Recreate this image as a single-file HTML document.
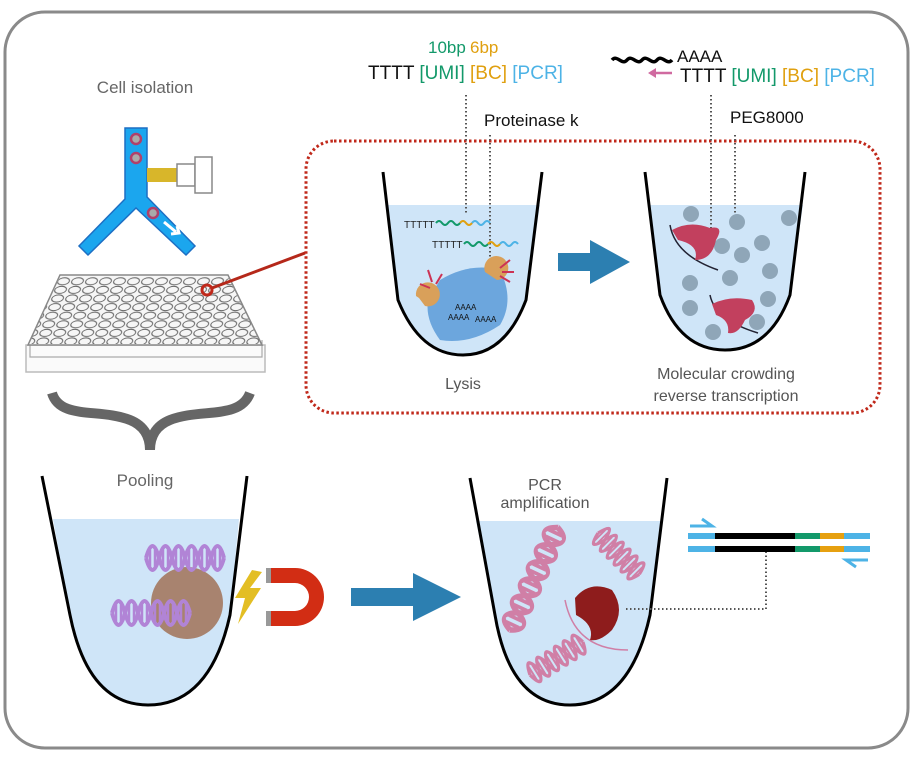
<!DOCTYPE html>
<html><head><meta charset="utf-8"><style>
html,body{margin:0;padding:0;background:#fff}
svg{display:block}
text{font-family:"Liberation Sans",sans-serif}
</style></head><body>
<svg width="914" height="762" viewBox="0 0 914 762" xmlns="http://www.w3.org/2000/svg">
<defs>
<pattern id="wells" x="0" y="0" width="14" height="8.6" patternUnits="userSpaceOnUse" patternTransform="translate(58,277) skewX(-19)">
<ellipse cx="7" cy="4.3" rx="5.8" ry="3.6" fill="none" stroke="#666" stroke-width="1"/>
</pattern>
<g id="dna">
<path d="M0,0 Q6.5,-24 13,0 T26,0 T39,0 T52,0 T65,0 T78,0" fill="none" stroke-width="4"/>
<path d="M0,0 Q6.5,24 13,0 T26,0 T39,0 T52,0 T65,0 T78,0" fill="none" stroke-width="4"/>
<path d="M4,-8 v16 M9,-8 v16 M17,-8 v16 M22,-8 v16 M30,-8 v16 M35,-8 v16 M43,-8 v16 M48,-8 v16 M56,-8 v16 M61,-8 v16 M69,-8 v16 M74,-8 v16" stroke-width="2.5"/>
</g>
</defs>
<rect x="5" y="12" width="903" height="736" rx="40" fill="#fff" stroke="#8a8a8a" stroke-width="3"/>

<text x="145" y="93" font-size="17" fill="#666" text-anchor="middle">Cell isolation</text>
<g stroke="#1d6fc4" stroke-width="1.5" fill="#1ba6ee">
<path d="M125,128 H147 V197 L195,246 L186,255 L136,208 L88,255 L79,246 L125,199 Z"/>
</g>
<rect x="147" y="168" width="30" height="14" fill="#d8b62a"/>
<rect x="177" y="164" width="18" height="22" fill="#fff" stroke="#888" stroke-width="1.5"/>
<rect x="195" y="157" width="17" height="36" fill="#fff" stroke="#888" stroke-width="1.5"/>
<g fill="#aaa" stroke="#b0406a" stroke-width="2.5">
<circle cx="136" cy="139" r="5"/><circle cx="136" cy="158" r="5"/><circle cx="153" cy="213" r="5"/>
</g>
<path d="M164,222 L176,232 M171,234 L179,233 L177,226" stroke="#fff" stroke-width="3" fill="none"/>

<path d="M26,345 V372 H265 V345 Z" fill="#fafafa" stroke="#bbb" stroke-width="1.5"/>
<path d="M30,340 V357 H262 V340" fill="none" stroke="#aaa" stroke-width="1.2"/>
<path d="M60,275 H228 L262,345 H28 Z" fill="#f6f6f6" stroke="#888" stroke-width="1.5"/>
<path d="M60,277 H228 L261,344 H29 Z" fill="url(#wells)"/>
<circle cx="207" cy="290" r="5" fill="none" stroke="#c0281a" stroke-width="3"/>
<line x1="212" y1="288" x2="305" y2="253" stroke="#b5281a" stroke-width="3"/>

<path d="M52,393 C60,420 100,408 130,420 C145,426 150,438 150,450 C150,438 155,426 170,420 C200,408 240,420 250,393" fill="none" stroke="#666" stroke-width="10"/>

<rect x="306" y="141" width="574" height="272" rx="28" fill="none" stroke="#c0281a" stroke-width="3" stroke-dasharray="2.5,2.5"/>

<text x="428" y="53" font-size="17" fill="#13996a">10bp</text>
<text x="470" y="53" font-size="17" fill="#e0a010">6bp</text>
<text x="368" y="79" font-size="19" fill="#111">TTTT <tspan fill="#13996a">[UMI]</tspan> <tspan fill="#e0a010">[BC]</tspan> <tspan fill="#4db3e6">[PCR]</tspan></text>
<path d="M612,60 c5,-6 10,6 15,0 c5,-6 10,6 15,0 c5,-6 10,6 15,0 c5,-6 10,6 15,0" fill="none" stroke="#000" stroke-width="3.5"/>
<text x="677" y="62" font-size="17" fill="#111">AAAA</text>
<line x1="650" y1="73" x2="672" y2="73" stroke="#d06aa0" stroke-width="2.5"/>
<path d="M648,73 l8,-5 v10 z" fill="#d06aa0"/>
<text x="680" y="82" font-size="19" fill="#111">TTTT <tspan fill="#13996a">[UMI]</tspan> <tspan fill="#e0a010">[BC]</tspan> <tspan fill="#4db3e6">[PCR]</tspan></text>
<text x="484" y="126" font-size="17" fill="#111">Proteinase k</text>
<text x="730" y="123" font-size="17" fill="#111">PEG8000</text>

<path d="M386,205 H540 L526,300 Q505,355 463,355 Q420,355 398,300 Z" fill="#cfe5f8"/>
<path d="M383,172 L398,300 Q420,355 463,355 Q505,355 526,300 L542,172" fill="none" stroke="#000" stroke-width="3"/>
<line x1="466" y1="95" x2="466" y2="215" stroke="#555" stroke-width="2" stroke-dasharray="1.5,2.5"/>
<line x1="490" y1="135" x2="490" y2="262" stroke="#555" stroke-width="2" stroke-dasharray="1.5,2.5"/>
<text x="404" y="228" font-size="10" fill="#222">TTTTT</text>
<path d="M436,223 q3,-4 6,0 t6,0 t6,0 t6,0" fill="none" stroke="#13996a" stroke-width="2"/>
<path d="M460,223 q3,-4 6,0 t6,0" fill="none" stroke="#e0a010" stroke-width="2"/>
<path d="M472,223 q3,-4 6,0 t6,0 t6,0" fill="none" stroke="#4db3e6" stroke-width="2"/>
<text x="432" y="248" font-size="10" fill="#222">TTTTT</text>
<path d="M464,244 q3,-4 6,0 t6,0 t6,0 t6,0" fill="none" stroke="#13996a" stroke-width="2"/>
<path d="M488,244 q3,-4 6,0 t6,0" fill="none" stroke="#e0a010" stroke-width="2"/>
<path d="M500,244 q3,-4 6,0 t6,0 t6,0" fill="none" stroke="#4db3e6" stroke-width="2"/>
<path d="M440,280 Q470,262 500,270 Q515,300 500,325 Q470,345 440,340 Q425,320 428,300 Z" fill="#5b9bd8" opacity="0.85"/>
<text x="455" y="310" font-size="8" fill="#111">AAAA</text>
<text x="448" y="320" font-size="8" fill="#111">AAAA</text>
<text x="475" y="322" font-size="8" fill="#111">AAAA</text>
<path d="M416,296 a12,12 0 1,1 9,10 l-6,-8 z" fill="#d9a05a"/>
<path d="M485,272 a12,12 0 1,1 12,8 l-9,-6 z" fill="#d9a05a"/>
<path d="M432,282 l-4,-12 M436,284 l6,-10 M430,288 l-10,-4" stroke="#cc3355" stroke-width="2"/>
<path d="M500,268 l10,-8 M502,272 l12,0 M500,276 l10,6" stroke="#cc3355" stroke-width="2"/>

<path d="M558,253 H590 V240 L630,262 L590,284 V271 H558 Z" fill="#2c7fb1"/>

<path d="M648,205 H803 L790,295 Q770,350 725,350 Q680,350 660,295 Z" fill="#cfe5f8"/>
<path d="M645,172 L660,295 Q680,350 725,350 Q770,350 790,295 L805,172" fill="none" stroke="#000" stroke-width="3"/>
<g fill="#8fa6b8">
<circle cx="691" cy="214" r="8"/><circle cx="737" cy="222" r="8"/><circle cx="789" cy="218" r="8"/>
<circle cx="722" cy="246" r="8"/><circle cx="742" cy="255" r="8"/><circle cx="762" cy="243" r="8"/>
<circle cx="770" cy="271" r="8"/><circle cx="730" cy="278" r="8"/><circle cx="690" cy="283" r="8"/>
<circle cx="768" cy="299" r="8"/><circle cx="690" cy="308" r="8"/><circle cx="713" cy="332" r="8"/><circle cx="757" cy="322" r="8"/>
</g>
<line x1="711" y1="95" x2="711" y2="228" stroke="#555" stroke-width="2" stroke-dasharray="1.5,2.5"/>
<line x1="735" y1="135" x2="735" y2="215" stroke="#555" stroke-width="2" stroke-dasharray="1.5,2.5"/>
<path d="M670,225 Q675,255 718,270" fill="none" stroke="#223" stroke-width="1.5"/>
<path d="M710,295 Q715,320 758,333" fill="none" stroke="#223" stroke-width="1.5"/>
<path d="M672,230 Q690,220 710,228 Q725,225 716,240 Q712,260 695,260 Q700,245 678,240 Z" fill="#c2405e"/>
<path d="M712,304 Q730,295 752,300 Q760,312 745,320 Q738,335 728,333 Q730,320 716,315 Z" fill="#c2405e"/>

<text x="463" y="389" font-size="16" fill="#555" text-anchor="middle">Lysis</text>
<text x="726" y="379" font-size="16" fill="#555" text-anchor="middle">Molecular crowding</text>
<text x="726" y="401" font-size="16" fill="#555" text-anchor="middle">reverse transcription</text>

<text x="145" y="486" font-size="17" fill="#666" text-anchor="middle">Pooling</text>
<path d="M53,519 H239 L230,615 Q210,705 148,705 Q88,705 70,615 Z" fill="#cfe5f8"/>
<path d="M42,476 L70,615 Q88,705 148,705 Q210,705 230,615 L247,476" fill="none" stroke="#000" stroke-width="3"/>
<circle cx="187" cy="603" r="36" fill="#a8836f"/>
<use href="#dna" x="146" y="558" stroke="#b184d6" fill="none"/>
<use href="#dna" x="112" y="613" stroke="#b184d6" fill="none"/>
<path d="M252,570 L262,572 L250,588 L261,588 L238,624 L245,598 L235,598 Z" fill="#e3be24"/>
<path d="M268,568 H295 A29,29 0 0 1 295,626 H268 V611 H295 A14,14 0 0 0 295,583 H268 Z" fill="#d22d14"/>
<rect x="266" y="568" width="5" height="15" fill="#999"/><rect x="266" y="611" width="5" height="15" fill="#999"/>
<path d="M351,588 H413 V573 L461,597 L413,621 V606 H351 Z" fill="#2c7fb1"/>

<text x="545" y="490" font-size="16" fill="#555" text-anchor="middle">PCR</text>
<text x="545" y="508" font-size="16" fill="#555" text-anchor="middle">amplification</text>
<path d="M476,521 H661 L650,615 Q630,705 570,705 Q510,705 495,615 Z" fill="#cfe5f8"/>
<path d="M470,478 L495,615 Q510,705 570,705 Q630,705 650,615 L667,478" fill="none" stroke="#000" stroke-width="3"/>
<g stroke="#d07fa6" fill="none">
<use href="#dna" transform="translate(510,630) rotate(-65) scale(1.45,0.9)"/>
<use href="#dna" transform="translate(598,533) rotate(45) scale(0.75,0.9)"/>
<use href="#dna" transform="translate(530,675) rotate(-32) scale(0.8,0.9)"/>
</g>
<path d="M565,600 Q575,650 628,650" fill="none" stroke="#d07fa6" stroke-width="1.5"/>
<path d="M575,598 Q590,580 612,590 Q626,610 612,630 Q600,642 590,640 Q595,625 576,615 Z" fill="#8e1c1c"/>
<line x1="626" y1="609" x2="766" y2="609" stroke="#555" stroke-width="2" stroke-dasharray="1.5,2.5"/>
<line x1="766" y1="609" x2="766" y2="552" stroke="#555" stroke-width="2" stroke-dasharray="1.5,2.5"/>
<rect x="688" y="533" width="27" height="6" fill="#4db3e6"/><rect x="715" y="533" width="80" height="6" fill="#000"/><rect x="795" y="533" width="25" height="6" fill="#13996a"/><rect x="820" y="533" width="24" height="6" fill="#e6a010"/><rect x="844" y="533" width="26" height="6" fill="#4db3e6"/>
<rect x="688" y="546" width="27" height="6" fill="#4db3e6"/><rect x="715" y="546" width="80" height="6" fill="#000"/><rect x="795" y="546" width="25" height="6" fill="#13996a"/><rect x="820" y="546" width="24" height="6" fill="#e6a010"/><rect x="844" y="546" width="26" height="6" fill="#4db3e6"/>
<path d="M690,526 H712 L702,519" fill="none" stroke="#4db3e6" stroke-width="3"/>
<path d="M868,560 H846 L856,567" fill="none" stroke="#4db3e6" stroke-width="3"/>
</svg>
</body></html>
